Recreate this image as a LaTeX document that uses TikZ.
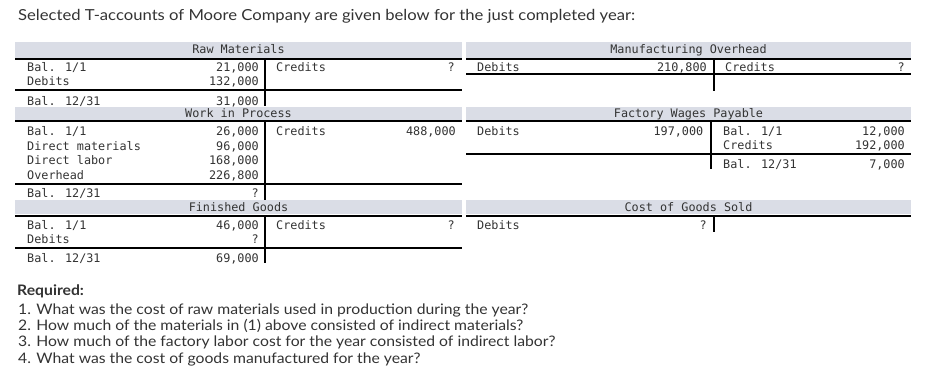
\documentclass[tikz,border=0pt]{standalone}
\usepackage{fontspec}
\setmainfont{Lato}
\newfontfamily\titlefont[FakeStretch=1.095]{Lato}
\newfontfamily\qfont[FakeStretch=1.085]{Lato}
\newfontfamily\tmono{DejaVu Sans Mono}
\definecolor{bandgray}{RGB}{218,221,230}
\definecolor{ink}{RGB}{51,51,51}
\begin{document}
\begin{tikzpicture}[x=1pt,y=-1pt,
  bandbox/.style={fill=bandgray,draw=none},
  rule/.style={line width=2pt,draw=black},
  mono/.style={font=\tmono\fontsize{11.8}{13}\selectfont, text=ink, inner sep=0pt},
  lab/.style={mono,anchor=base west},
  amt/.style={mono,anchor=base east},
  hdr/.style={mono,anchor=base},
  prose/.style={font=\qfont\fontsize{14.5}{17}\selectfont, text=ink, inner sep=0pt, anchor=base west}]
\useasboundingbox (0,0) rectangle (947,373);

\node[prose,font=\titlefont\fontsize{15.2}{17}\selectfont] (title) at (18,20) {Selected T-accounts of Moore Company are given below for the just completed year:};

% Raw Materials
\fill[bandbox] (15,41.5) rectangle (462,57.5);
\node[hdr] (rmH) at (238.5,53.5) {Raw Materials};
\draw[rule] (15,58.5) -- (462,58.5);
\draw[rule] (15,90) -- (462,90);
\draw[rule] (265,58.5) -- (265,106);
\node[lab] (rm1) at (27,71.3) {Bal. 1/1};
\node[amt] (rm1a) at (259,71.3) {21,000};
\node[lab] (rmC) at (276,71.3) {Credits};
\node[amt] (rmCa) at (455,71.3) {?};
\node[lab] (rm2) at (27,85.7) {Debits};
\node[amt] (rm2a) at (259,85.7) {132,000};
\node[lab] (rm3) at (27,105) {Bal. 12/31};
\node[amt] (rm3a) at (259,105) {31,000};

% Manufacturing Overhead
\fill[bandbox] (466,41.5) rectangle (911,57.5);
\node[hdr] (moH) at (688.5,53.5) {Manufacturing Overhead};
\draw[rule] (466,58.5) -- (911,58.5);
\draw[rule] (466,74.3) -- (911,74.3);
\draw[rule] (714,58.5) -- (714,91);
\node[lab] (mo1) at (477,71.3) {Debits};
\node[amt] (mo1a) at (707,71.3) {210,800};
\node[lab] (moC) at (725,71.3) {Credits};
\node[amt] (moCa) at (905,71.3) {?};

% Work in Process
\fill[bandbox] (15,106.5) rectangle (462,120);
\node[hdr] (wpH) at (238.5,117.3) {Work in Process};
\draw[rule] (15,121) -- (462,121);
\draw[rule] (15,184) -- (462,184);
\draw[rule] (265,121) -- (265,200);
\node[lab] (wp1) at (27,135) {Bal. 1/1};
\node[amt] (wp1a) at (259,135) {26,000};
\node[lab] (wpC) at (276,135) {Credits};
\node[amt] (wpCa) at (456,135) {488,000};
\node[lab] (wp2) at (27,150.5) {Direct materials};
\node[amt] (wp2a) at (259,150.5) {96,000};
\node[lab] (wp3) at (27,164.5) {Direct labor};
\node[amt] (wp3a) at (259,164.5) {168,000};
\node[lab] (wp4) at (27,179) {Overhead};
\node[amt] (wp4a) at (259,179) {226,800};
\node[lab] (wp5) at (27,197.3) {Bal. 12/31};
\node[amt] (wp5a) at (259,197.3) {?};

% Factory Wages Payable
\fill[bandbox] (466,106.5) rectangle (911,120);
\node[hdr] (fwH) at (688.5,117.3) {Factory Wages Payable};
\draw[rule] (466,121) -- (911,121);
\draw[rule] (466,154.3) -- (911,154.3);
\draw[rule] (711,121) -- (711,169);
\node[lab] (fw1) at (477,135) {Debits};
\node[amt] (fw1a) at (703.5,135) {197,000};
\node[lab] (fwC1) at (723,135) {Bal. 1/1};
\node[amt] (fwC1a) at (905,135) {12,000};
\node[lab] (fwC2) at (723,149.7) {Credits};
\node[amt] (fwC2a) at (905,149.7) {192,000};
\node[lab] (fwC3) at (723,168) {Bal. 12/31};
\node[amt] (fwC3a) at (905,168) {7,000};

% Finished Goods
\fill[bandbox] (15,200) rectangle (462,214.3);
\node[hdr] (fgH) at (238.5,211.3) {Finished Goods};
\draw[rule] (15,216) -- (462,216);
\draw[rule] (15,247.7) -- (462,247.7);
\draw[rule] (265,216) -- (265,263.3);
\node[lab] (fg1) at (27,229) {Bal. 1/1};
\node[amt] (fg1a) at (259,229) {46,000};
\node[lab] (fgC) at (276,229) {Credits};
\node[amt] (fgCa) at (455,229) {?};
\node[lab] (fg2) at (27,243.3) {Debits};
\node[amt] (fg2a) at (259,243.3) {?};
\node[lab] (fg3) at (27,262.3) {Bal. 12/31};
\node[amt] (fg3a) at (259,262.3) {69,000};

% Cost of Goods Sold
\fill[bandbox] (466,200) rectangle (911,214.3);
\node[hdr] (cgH) at (688.5,211.3) {Cost of Goods Sold};
\draw[rule] (466,216) -- (911,216);
\draw[rule] (714,216) -- (714,231.7);
\node[lab] (cg1) at (477,229) {Debits};
\node[amt] (cg1a) at (707,229) {?};

% Required
\node[prose,font=\qfont\bfseries\fontsize{14.5}{17}\selectfont] (req) at (17,295) {Required:};
\node[prose] (q1) at (18,314) {1. What was the cost of raw materials used in production during the year?};
\node[prose] (q2) at (18,330.3) {2. How much of the materials in (1) above consisted of indirect materials?};
\node[prose] (q3) at (18,346.6) {3. How much of the factory labor cost for the year consisted of indirect labor?};
\node[prose] (q4) at (18,363) {4. What was the cost of goods manufactured for the year?};
\end{tikzpicture}
\end{document}
